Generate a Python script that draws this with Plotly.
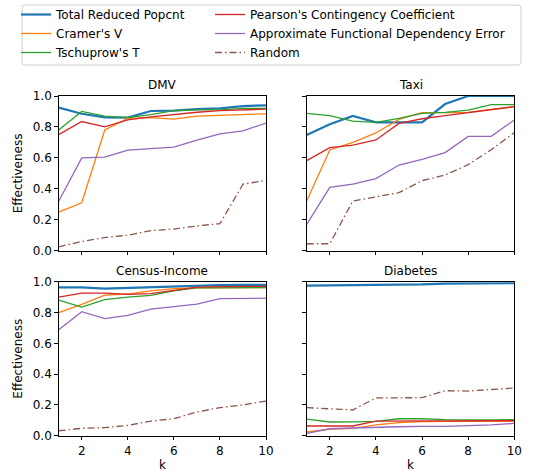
import plotly.graph_objects as go

k = [1, 2, 3, 4, 5, 6, 7, 8, 9, 10]

series_names = ["Total Reduced Popcnt", "Cramer's V", "Tschuprow's T",
                "Pearson's Contingency Coefficient",
                "Approximate Functional Dependency Error", "Random"]
colors = ["#1f77b4", "#ff7f0e", "#2ca02c", "#d62728", "#9467bd", "#8c564b"]
legend_column = ["legend", "legend", "legend", "legend2", "legend2", "legend2"]

dmv_total = [0.925, 0.885, 0.862, 0.86, 0.903, 0.905, 0.915, 0.92, 0.935, 0.94]
dmv_cramer = [0.25, 0.31, 0.78, 0.855, 0.86, 0.85, 0.87, 0.875, 0.88, 0.885]
dmv_tschuprow = [0.78, 0.90, 0.87, 0.86, 0.88, 0.905, 0.91, 0.91, 0.92, 0.92]
dmv_pearson = [0.75, 0.835, 0.80, 0.845, 0.865, 0.88, 0.895, 0.905, 0.91, 0.915]
dmv_afde = [0.32, 0.60, 0.605, 0.65, 0.66, 0.67, 0.715, 0.755, 0.775, 0.825]
dmv_random = [0.025, 0.06, 0.085, 0.10, 0.13, 0.14, 0.16, 0.175, 0.43, 0.455]

taxi_total = [0.748, 0.817, 0.871, 0.83, 0.83, 0.83, 0.948, 1.0, 1.0, 1.0]
taxi_cramer = [0.321, 0.651, 0.70, 0.761, 0.849, 0.892, 0.892, 0.894, 0.914, 0.931]
taxi_tschuprow = [0.888, 0.873, 0.838, 0.83, 0.856, 0.888, 0.894, 0.909, 0.944, 0.944]
taxi_pearson = [0.582, 0.666, 0.683, 0.716, 0.823, 0.853, 0.873, 0.892, 0.914, 0.931]
taxi_afde = [0.17, 0.409, 0.431, 0.466, 0.554, 0.591, 0.634, 0.739, 0.739, 0.845]
taxi_random = [0.045, 0.045, 0.321, 0.347, 0.375, 0.453, 0.489, 0.556, 0.653, 0.763]

census_total = [0.963, 0.963, 0.955, 0.96, 0.965, 0.97, 0.975, 0.978, 0.98, 0.98]
census_cramer = [0.799, 0.853, 0.913, 0.92, 0.94, 0.955, 0.96, 0.96, 0.962, 0.962]
census_tschuprow = [0.881, 0.835, 0.883, 0.90, 0.911, 0.94, 0.96, 0.96, 0.962, 0.962]
census_pearson = [0.90, 0.926, 0.926, 0.918, 0.922, 0.945, 0.965, 0.968, 0.968, 0.97]
census_afde = [0.688, 0.805, 0.76, 0.781, 0.822, 0.838, 0.855, 0.89, 0.892, 0.893]
census_random = [0.032, 0.048, 0.052, 0.067, 0.095, 0.11, 0.154, 0.182, 0.20, 0.225]

diab_total = [0.974, 0.975, 0.976, 0.98, 0.98, 0.982, 0.988, 0.99, 0.99, 0.99]
diab_cramer = [0.024, 0.043, 0.048, 0.07, 0.085, 0.092, 0.093, 0.093, 0.095, 0.095]
diab_tschuprow = [0.108, 0.089, 0.09, 0.093, 0.11, 0.11, 0.105, 0.103, 0.102, 0.105]
diab_pearson = [0.063, 0.063, 0.063, 0.095, 0.095, 0.097, 0.097, 0.097, 0.097, 0.097]
diab_afde = [0.015, 0.045, 0.05, 0.055, 0.058, 0.06, 0.06, 0.065, 0.07, 0.08]
diab_random = [0.182, 0.173, 0.167, 0.245, 0.247, 0.247, 0.292, 0.29, 0.30, 0.31]

panel_titles = ["DMV", "Taxi", "Census-Income", "Diabetes"]
panels = [
    [dmv_total, dmv_cramer, dmv_tschuprow, dmv_pearson, dmv_afde, dmv_random],
    [taxi_total, taxi_cramer, taxi_tschuprow, taxi_pearson, taxi_afde, taxi_random],
    [census_total, census_cramer, census_tschuprow, census_pearson, census_afde, census_random],
    [diab_total, diab_cramer, diab_tschuprow, diab_pearson, diab_afde, diab_random],
]

y_ticks = [0.0, 0.2, 0.4, 0.6, 0.8, 1.0]
x_ticks = [2, 4, 6, 8, 10]
y_label = "Effectiveness"
x_label = "k"

W, H = 533, 472
FONT = "DejaVu Sans"

# pixel geometry
x_doms = [[58.7 / W, 266.0 / W], [306.7 / W, 514.3 / W]]
y_doms = [[1 - 250.7 / H, 1 - 96.0 / H], [1 - 435.7 / H, 1 - 281.7 / H]]

fig = go.Figure()

for p, data in enumerate(panels):
    ax = "" if p == 0 else str(p + 1)
    for s, vals in enumerate(data):
        fig.add_trace(go.Scatter(
            x=k, y=vals, mode="lines",
            name=series_names[s],
            legendgroup=series_names[s],
            legend=legend_column[s],
            showlegend=(p == 0),
            line=dict(color=colors[s], width=2.2 if s == 0 else 1.3,
                      dash="7px,3px,1.5px,3px" if s == 5 else "solid"),
            xaxis="x" + ax, yaxis="y" + ax,
        ))

axis_common = dict(showline=True, mirror=True, linecolor="black", linewidth=1,
                   ticks="outside", ticklen=3.5, tickwidth=1, tickcolor="black",
                   showgrid=False, zeroline=False,
                   tickfont=dict(family=FONT, size=12, color="black"))

# rounded legend frame (pixel coordinates)
lx0, lx1, ly0, ly1, rr = 22, 521, 5, 65, 3
def px(x):
    return x / W
def py(y):
    return 1 - y / H
frame = (f"M{px(lx0 + rr)},{py(ly0)} L{px(lx1 - rr)},{py(ly0)} "
         f"Q{px(lx1)},{py(ly0)} {px(lx1)},{py(ly0 + rr)} "
         f"L{px(lx1)},{py(ly1 - rr)} Q{px(lx1)},{py(ly1)} {px(lx1 - rr)},{py(ly1)} "
         f"L{px(lx0 + rr)},{py(ly1)} Q{px(lx0)},{py(ly1)} {px(lx0)},{py(ly1 - rr)} "
         f"L{px(lx0)},{py(ly0 + rr)} Q{px(lx0)},{py(ly0)} {px(lx0 + rr)},{py(ly0)} Z")

leg_common = dict(orientation="v", xref="container", yref="container",
                  yanchor="top", y=1.0, xanchor="left",
                  borderwidth=0, bgcolor="rgba(0,0,0,0)",
                  tracegroupgap=0, traceorder="normal",
                  font=dict(family=FONT, size=12, color="black"))

layout = dict(
    width=W, height=H,
    margin=dict(l=0, r=0, t=0, b=0, autoexpand=False),
    plot_bgcolor="white", paper_bgcolor="white",
    font=dict(family=FONT, size=12, color="black"),
    showlegend=True,
    legend=dict(leg_common, x=16 / W),
    legend2=dict(leg_common, x=210 / W),
    shapes=[dict(type="path", path=frame, xref="paper", yref="paper",
                 line=dict(color="#d0d0d0", width=1), fillcolor="white",
                 layer="below")],
)

annotations = []
for p in range(4):
    r, c = divmod(p, 2)
    ax = "" if p == 0 else str(p + 1)
    xa = dict(axis_common, domain=x_doms[c], range=[1, 10], tickvals=x_ticks,
              anchor="y" + ax, showticklabels=(r == 1))
    ya = dict(axis_common, domain=y_doms[r], range=[0, 1], tickvals=y_ticks,
              tickformat=".1f", anchor="x" + ax, showticklabels=(c == 0))
    layout["xaxis" + ax] = xa
    layout["yaxis" + ax] = ya
    annotations.append(dict(
        text=panel_titles[p], x=(x_doms[c][0] + x_doms[c][1]) / 2,
        y=y_doms[r][1] + 11 / H, xref="paper", yref="paper",
        xanchor="center", yanchor="middle", showarrow=False,
        font=dict(family=FONT, size=12, color="black")))
    if c == 0:
        annotations.append(dict(
            text=y_label, textangle=-90, x=18 / W, y=(y_doms[r][0] + y_doms[r][1]) / 2,
            xref="paper", yref="paper", xanchor="center", yanchor="middle",
            showarrow=False, font=dict(family=FONT, size=12, color="black")))
    if r == 1:
        annotations.append(dict(
            text=x_label, x=(x_doms[c][0] + x_doms[c][1]) / 2, y=1 - 465 / H,
            xref="paper", yref="paper", xanchor="center", yanchor="middle",
            showarrow=False, font=dict(family=FONT, size=12, color="black")))
layout["annotations"] = annotations

fig.update_layout(**layout)
fig.write_html("out.html", config={"displayModeBar": False},
               post_script="document.body.style.margin='0';"
                           "document.body.style.overflow='hidden';")
